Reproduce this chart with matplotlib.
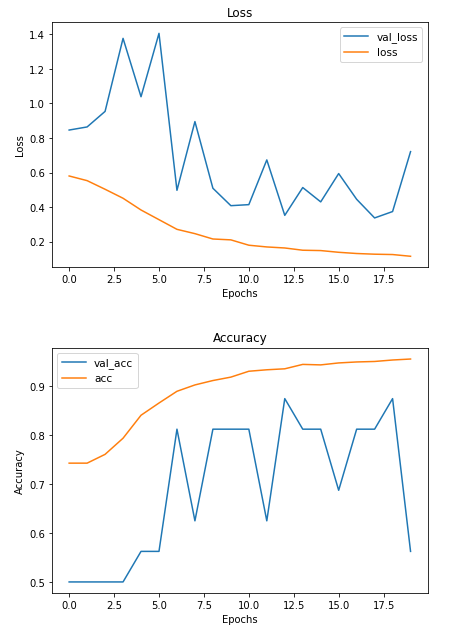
import matplotlib
matplotlib.use('Agg')
import matplotlib.pyplot as plt

epochs = list(range(20))

val_loss = [0.846, 0.864, 0.954, 1.377, 1.039, 1.406, 0.497, 0.895, 0.509, 0.408,
            0.414, 0.673, 0.352, 0.513, 0.430, 0.594, 0.445, 0.337, 0.374, 0.721]
loss = [0.580, 0.553, 0.503, 0.451, 0.383, 0.327, 0.271, 0.246, 0.215, 0.210,
        0.179, 0.169, 0.163, 0.150, 0.148, 0.138, 0.131, 0.127, 0.125, 0.115]

val_acc = [0.5, 0.5, 0.5, 0.5, 0.5625, 0.5625, 0.8125, 0.625, 0.8125, 0.8125,
           0.8125, 0.625, 0.875, 0.8125, 0.8125, 0.6875, 0.8125, 0.8125, 0.875, 0.5625]
acc = [0.743, 0.743, 0.761, 0.794, 0.841, 0.866, 0.890, 0.903, 0.912, 0.919,
       0.931, 0.934, 0.936, 0.945, 0.944, 0.948, 0.950, 0.951, 0.954, 0.956]

fig = plt.figure(figsize=(6.4, 8.8), dpi=72)

# loss plot
ax1 = fig.add_axes([0.113, 0.577, 0.815, 0.387])
ax1.plot(epochs, val_loss, label='val_loss')
ax1.plot(epochs, loss, label='loss')
ax1.set_title('Loss')
ax1.set_xlabel('Epochs')
ax1.set_ylabel('Loss')
ax1.legend(loc='upper right', fontsize=10.5, handlelength=2.3)

# accuracy plot
ax2 = fig.add_axes([0.113, 0.063, 0.815, 0.387])
ax2.plot(epochs, val_acc, label='val_acc')
ax2.plot(epochs, acc, label='acc')
ax2.set_title('Accuracy')
ax2.set_xlabel('Epochs')
ax2.set_ylabel('Accuracy')
ax2.legend(loc='upper left', fontsize=10.5, handlelength=2.3)

fig.savefig('out.png', dpi=72)
